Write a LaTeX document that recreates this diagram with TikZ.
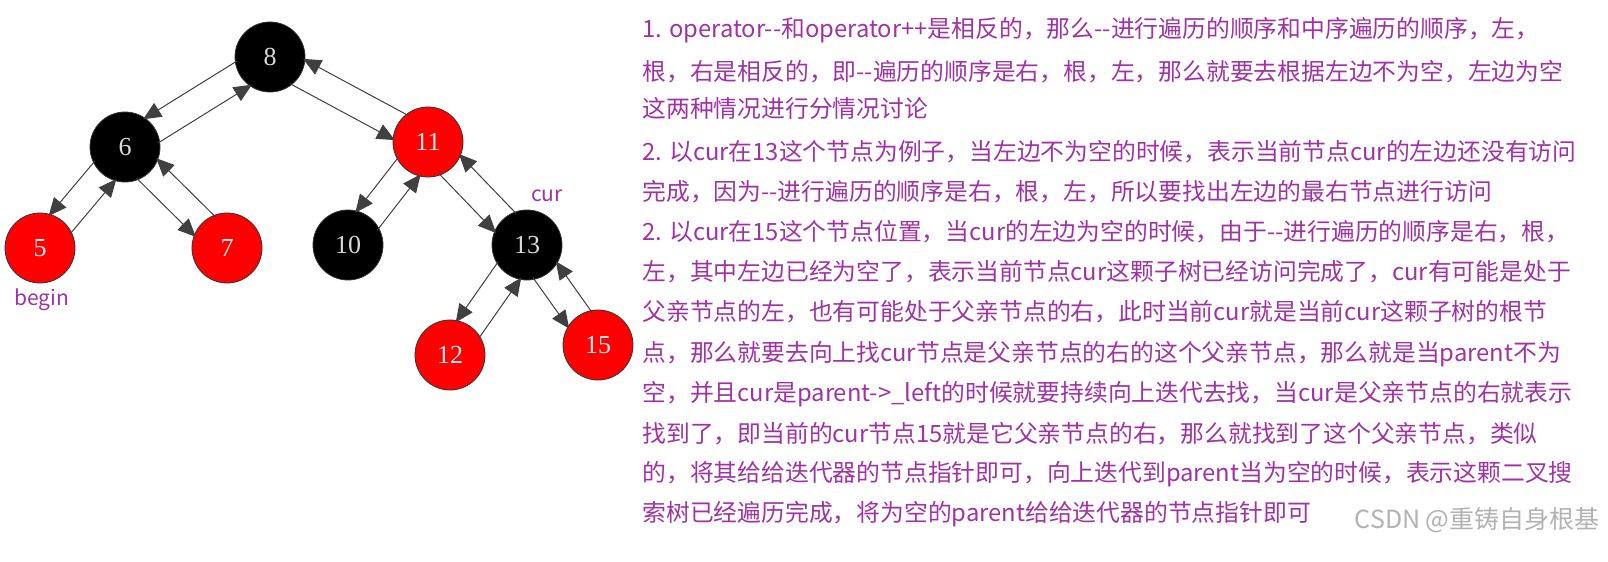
\documentclass[tikz,border=0pt]{standalone}
\usepackage{fontspec}
\setmainfont{Liberation Serif}
\newfontfamily\cjk{Noto Sans CJK SC}
\usetikzlibrary{calc,arrows.meta}
\definecolor{txt}{RGB}{160,50,165}
\definecolor{rb}{RGB}{255,0,0}
\begin{document}
\begin{tikzpicture}[x=0.5pt,y=-0.5pt,
  bn/.style={circle,draw=black!80,fill=black,minimum size=35pt,inner sep=0pt,text=white!85!black,font=\fontsize{13}{13}\selectfont},
  rn/.style={bn,fill=rb,text=white!92!black},
  arr/.style={draw=black!75,line width=0.5pt,-{Triangle[length=9pt,width=8pt]},shorten <=15pt,shorten >=15pt},
  lbl/.style={text=txt,font=\cjk\fontsize{10.5}{10.5}\selectfont,inner sep=0pt},
  ln/.style={anchor=west,text=txt,font=\cjk\fontsize{11.9}{11.9}\selectfont,inner sep=0pt}]
\useasboundingbox (0,0) rectangle (1608,562);
\node[bn] (n8) at (270,57) {8};
\node[bn] (n6) at (125,147) {6};
\node[rn] (n11) at (428,142) {11};
\node[rn] (n5) at (40,248) {5};
\node[rn] (n7) at (227,248) {7};
\node[bn] (n10) at (348,245) {10};
\node[bn] (n13) at (527,245) {13};
\node[rn] (n12) at (450,355) {12};
\node[rn] (n15) at (598,345) {15};
\newcommand\pe[2]{%
  \draw[arr] ($(#1)!7pt!-90:(#2)$) -- ($(#2)!7pt!90:(#1)$);
  \draw[arr] ($(#2)!7pt!-90:(#1)$) -- ($(#1)!7pt!90:(#2)$);}
\pe{n8}{n6}\pe{n8}{n11}\pe{n6}{n5}\pe{n6}{n7}
\pe{n11}{n10}\pe{n11}{n13}\pe{n13}{n12}\pe{n13}{n15}
\node[lbl] (cur) at (547,196) {cur};
\node[lbl] (beg) at (42,300) {begin};
\begin{scope}[every node/.style=ln]
\node (l1) at (642,30) {1. operator--和operator++是相反的，那么--进行遍历的顺序和中序遍历的顺序，左，};
\node (l2) at (642,72) {根，右是相反的，即--遍历的顺序是右，根，左，那么就要去根据左边不为空，左边为空};
\node (l3) at (642,108) {这两种情况进行分情况讨论};
\node (l4) at (642,152) {2. 以cur在13这个节点为例子，当左边不为空的时候，表示当前节点cur的左边还没有访问};
\node (l5) at (642,192) {完成，因为--进行遍历的顺序是右，根，左，所以要找出左边的最右节点进行访问};
\node (l6) at (642,232) {2. 以cur在15这个节点位置，当cur的左边为空的时候，由于--进行遍历的顺序是右，根，};
\node (l7) at (642,272) {左，其中左边已经为空了，表示当前节点cur这颗子树已经访问完成了，cur有可能是处于};
\node (l8) at (642,312) {父亲节点的左，也有可能处于父亲节点的右，此时当前cur就是当前cur这颗子树的根节};
\node (l9) at (642,354) {点，那么就要去向上找cur节点是父亲节点的右的这个父亲节点，那么就是当parent不为};
\node (l10) at (642,394) {空，并且cur是parent->\_left的时候就要持续向上迭代去找，当cur是父亲节点的右就表示};
\node (l11) at (642,434) {找到了，即当前的cur节点15就是它父亲节点的右，那么就找到了这个父亲节点，类似};
\node (l12) at (642,474) {的，将其给给迭代器的节点指针即可，向上迭代到parent当为空的时候，表示这颗二叉搜};
\node (l13) at (642,514) {索树已经遍历完成，将为空的parent给给迭代器的节点指针即可};
\end{scope}
\node[anchor=east,text=black!30,font=\cjk\fontsize{12.5}{12.5}\selectfont,inner sep=0pt] (wm) at (1600,520) {CSDN @重铸自身根基};
\end{tikzpicture}
\end{document}
